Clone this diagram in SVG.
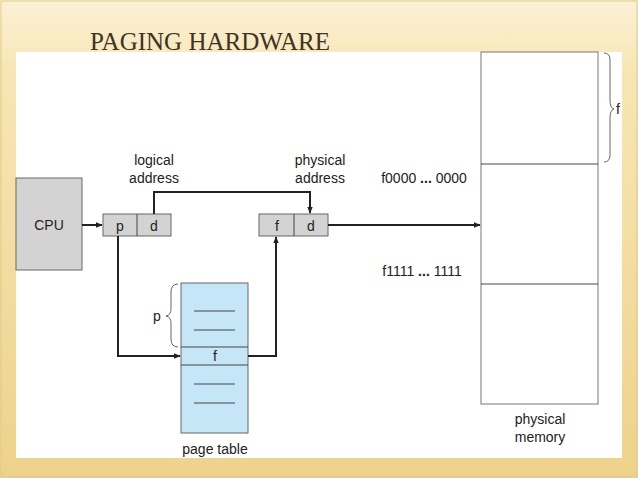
<svg xmlns="http://www.w3.org/2000/svg" width="638" height="478" viewBox="0 0 638 478">
<defs>
<linearGradient id="bg" x1="0" y1="0" x2="0" y2="1"><stop offset="0" stop-color="#fbf1d6"/><stop offset="0.15" stop-color="#f7e6b4"/><stop offset="1" stop-color="#eed28c"/></linearGradient>
<marker id="ah" viewBox="0 0 10 10" refX="9" refY="5" markerWidth="7" markerHeight="7" orient="auto" markerUnits="userSpaceOnUse"><path d="M0,1 L10,5 L0,9 z" fill="#222"/></marker>
</defs>
<style>
text{font-family:"Liberation Sans",Arial,sans-serif;font-size:14px;fill:#222}
.g{fill:#d3d3d3;stroke:#666;stroke-width:1}
.b{fill:#c5e6f7;stroke:#666;stroke-width:1}
.m{fill:#fff;stroke:#777;stroke-width:1}
.c{fill:none;stroke:#222;stroke-width:2}
.t{stroke:#444;stroke-width:1}
.br{fill:none;stroke:#666;stroke-width:1}
</style>
<rect x="0" y="0" width="638" height="478" fill="url(#bg)"/>
<rect x="1" y="1" width="636" height="476" fill="none" stroke="#e0c98a"/>
<text x="90" y="50" style="font-family:'Liberation Serif',serif;font-size:25px;fill:#3e3326">PAGING HARDWARE</text>
<rect x="16" y="52" width="606" height="406" fill="#fff"/>
<g id="cpu"><rect class="g" x="16" y="178" width="66" height="92"/><text x="49" y="230" text-anchor="middle">CPU</text></g>
<g id="logical"><rect class="g" x="103" y="214" width="68" height="22"/><line class="t" x1="137" y1="214" x2="137" y2="236"/><text x="120" y="231" text-anchor="middle">p</text><text x="154" y="231" text-anchor="middle">d</text>
<text x="154" y="165" text-anchor="middle">logical</text><text x="154" y="183" text-anchor="middle">address</text></g>
<g id="physical"><rect class="g" x="259" y="214" width="69" height="22"/><line class="t" x1="294" y1="214" x2="294" y2="236"/><text x="277" y="231" text-anchor="middle">f</text><text x="311" y="231" text-anchor="middle">d</text>
<text x="320" y="165" text-anchor="middle">physical</text><text x="320" y="183" text-anchor="middle">address</text></g>
<g id="pagetable"><rect class="b" x="181" y="283" width="67" height="150"/><line class="t" x1="181" y1="347" x2="248" y2="347"/><line class="t" x1="181" y1="365" x2="248" y2="365"/>
<line class="t" x1="194" y1="311" x2="235" y2="311"/><line class="t" x1="194" y1="330" x2="235" y2="330"/><line class="t" x1="194" y1="384" x2="235" y2="384"/><line class="t" x1="194" y1="403" x2="235" y2="403"/>
<text x="215" y="361" text-anchor="middle">f</text>
<path class="br" d="M178,284 Q171,284 171,292 L171,309 Q171,315 166,316 Q171,317 171,323 L171,339 Q171,347 178,347"/>
<text x="157" y="321" text-anchor="middle">p</text>
<text x="215" y="454" text-anchor="middle">page table</text></g>
<g id="memory"><rect class="m" x="481" y="52" width="117" height="352"/><line class="t" x1="481" y1="164" x2="598" y2="164"/><line class="t" x1="481" y1="284" x2="598" y2="284"/>
<path class="br" d="M604,53 Q610,53 610,60 L610,100 Q610,108 614,109 Q610,110 610,118 L610,155 Q610,162 604,162"/>
<text x="616" y="114" font-size="13">f</text>
<text x="424" y="183" text-anchor="middle">f0000 <tspan font-weight="bold">...</tspan> 0000</text>
<text x="422" y="276" text-anchor="middle">f1111 <tspan font-weight="bold">...</tspan> 1111</text>
<text x="540" y="424" text-anchor="middle">physical</text><text x="540" y="442" text-anchor="middle">memory</text></g>
<g id="connectors">
<line class="c" x1="82" y1="225" x2="102" y2="225" marker-end="url(#ah)"/>
<polyline class="c" points="154,214 154,192 310,192 310,213" marker-end="url(#ah)"/>
<polyline class="c" points="118,236 118,356 180,356" marker-end="url(#ah)"/>
<polyline class="c" points="248,356 276,356 276,237" marker-end="url(#ah)"/>
<line class="c" x1="328" y1="225" x2="480" y2="225" marker-end="url(#ah)"/>
</g>
</svg>
